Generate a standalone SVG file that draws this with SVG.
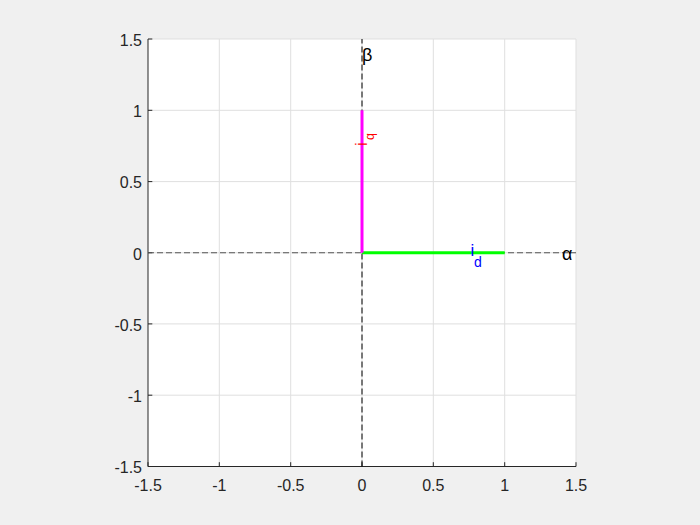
<svg xmlns="http://www.w3.org/2000/svg" width="700" height="525" viewBox="0 0 700 525">
<style>
.grid{stroke:#dfdfdf;stroke-width:1;fill:none}
.axis{stroke:#262626;stroke-width:1;fill:none}
.tl{font-family:"Liberation Sans",Arial,sans-serif;font-size:16px;fill:#262626}
.dash{stroke:#000;stroke-width:1;stroke-dasharray:6,3;fill:none}
.lbl{font-family:"Liberation Sans",Arial,sans-serif}
</style>
<rect width="700" height="525" fill="#f0f0f0"/>
<rect x="148" y="39" width="428" height="427.5" fill="#fff"/>
<g id="grid">
<path class="grid" d="M219.3,39V466.5M290.7,39V466.5M362,39V466.5M433.3,39V466.5M504.7,39V466.5M576,39V466.5M148,39H576M148,110.3H576M148,181.6H576M148,252.75H576M148,323.9H576M148,395.2H576"/>
</g>
<g id="axes">
<path class="axis" d="M148,39V466.5H576"/>
<path class="axis" d="M148,39h4.3M148,110.3h4.3M148,181.6h4.3M148,252.75h4.3M148,323.9h4.3M148,395.2h4.3M148,466.5h4.3M148,466.5v-4.3M219.3,466.5v-4.3M290.7,466.5v-4.3M362,466.5v-4.3M433.3,466.5v-4.3M504.7,466.5v-4.3M576,466.5v-4.3"/>
<g class="tl" text-anchor="end">
<text x="142" y="45.8">1.5</text>
<text x="142" y="117.1">1</text>
<text x="142" y="188.4">0.5</text>
<text x="142" y="259.5">0</text>
<text x="142" y="330.7">-0.5</text>
<text x="142" y="402">-1</text>
<text x="142" y="473.3">-1.5</text>
</g>
<g class="tl" text-anchor="middle">
<text x="148" y="491">-1.5</text>
<text x="219.3" y="491">-1</text>
<text x="290.7" y="491">-0.5</text>
<text x="362" y="491">0</text>
<text x="433.3" y="491">0.5</text>
<text x="504.7" y="491">1</text>
<text x="576" y="491">1.5</text>
</g>
</g>
<g id="connectors">
<path class="dash" d="M148,252.75H576" stroke="#555" style="stroke:#555"/>
<path class="dash" d="M362,466.5V39"/>
<path d="M362,252.75H504.7" stroke="#00ff00" stroke-width="3" fill="none"/>
<path d="M362,252.75V110.3" stroke="#ff00ff" stroke-width="3" fill="none"/>
</g>
<g id="beta"><text class="lbl" x="362" y="61" font-size="18" fill="#000">β</text></g>
<g id="alpha"><text class="lbl" x="562" y="260" font-size="18" fill="#000">α</text></g>
<g id="id">
<text class="lbl" x="470.5" y="256" font-size="17" fill="#0000ff">i</text>
<text class="lbl" x="474" y="266.5" font-size="14" fill="#0000ff">d</text>
</g>
<g id="iq">
<text class="lbl" transform="translate(367,146) rotate(-90)" font-size="17" fill="#ff0000">i</text>
<text class="lbl" transform="translate(374,140) rotate(-90)" font-size="12.5" fill="#ff0000">q</text>
</g>
</svg>
